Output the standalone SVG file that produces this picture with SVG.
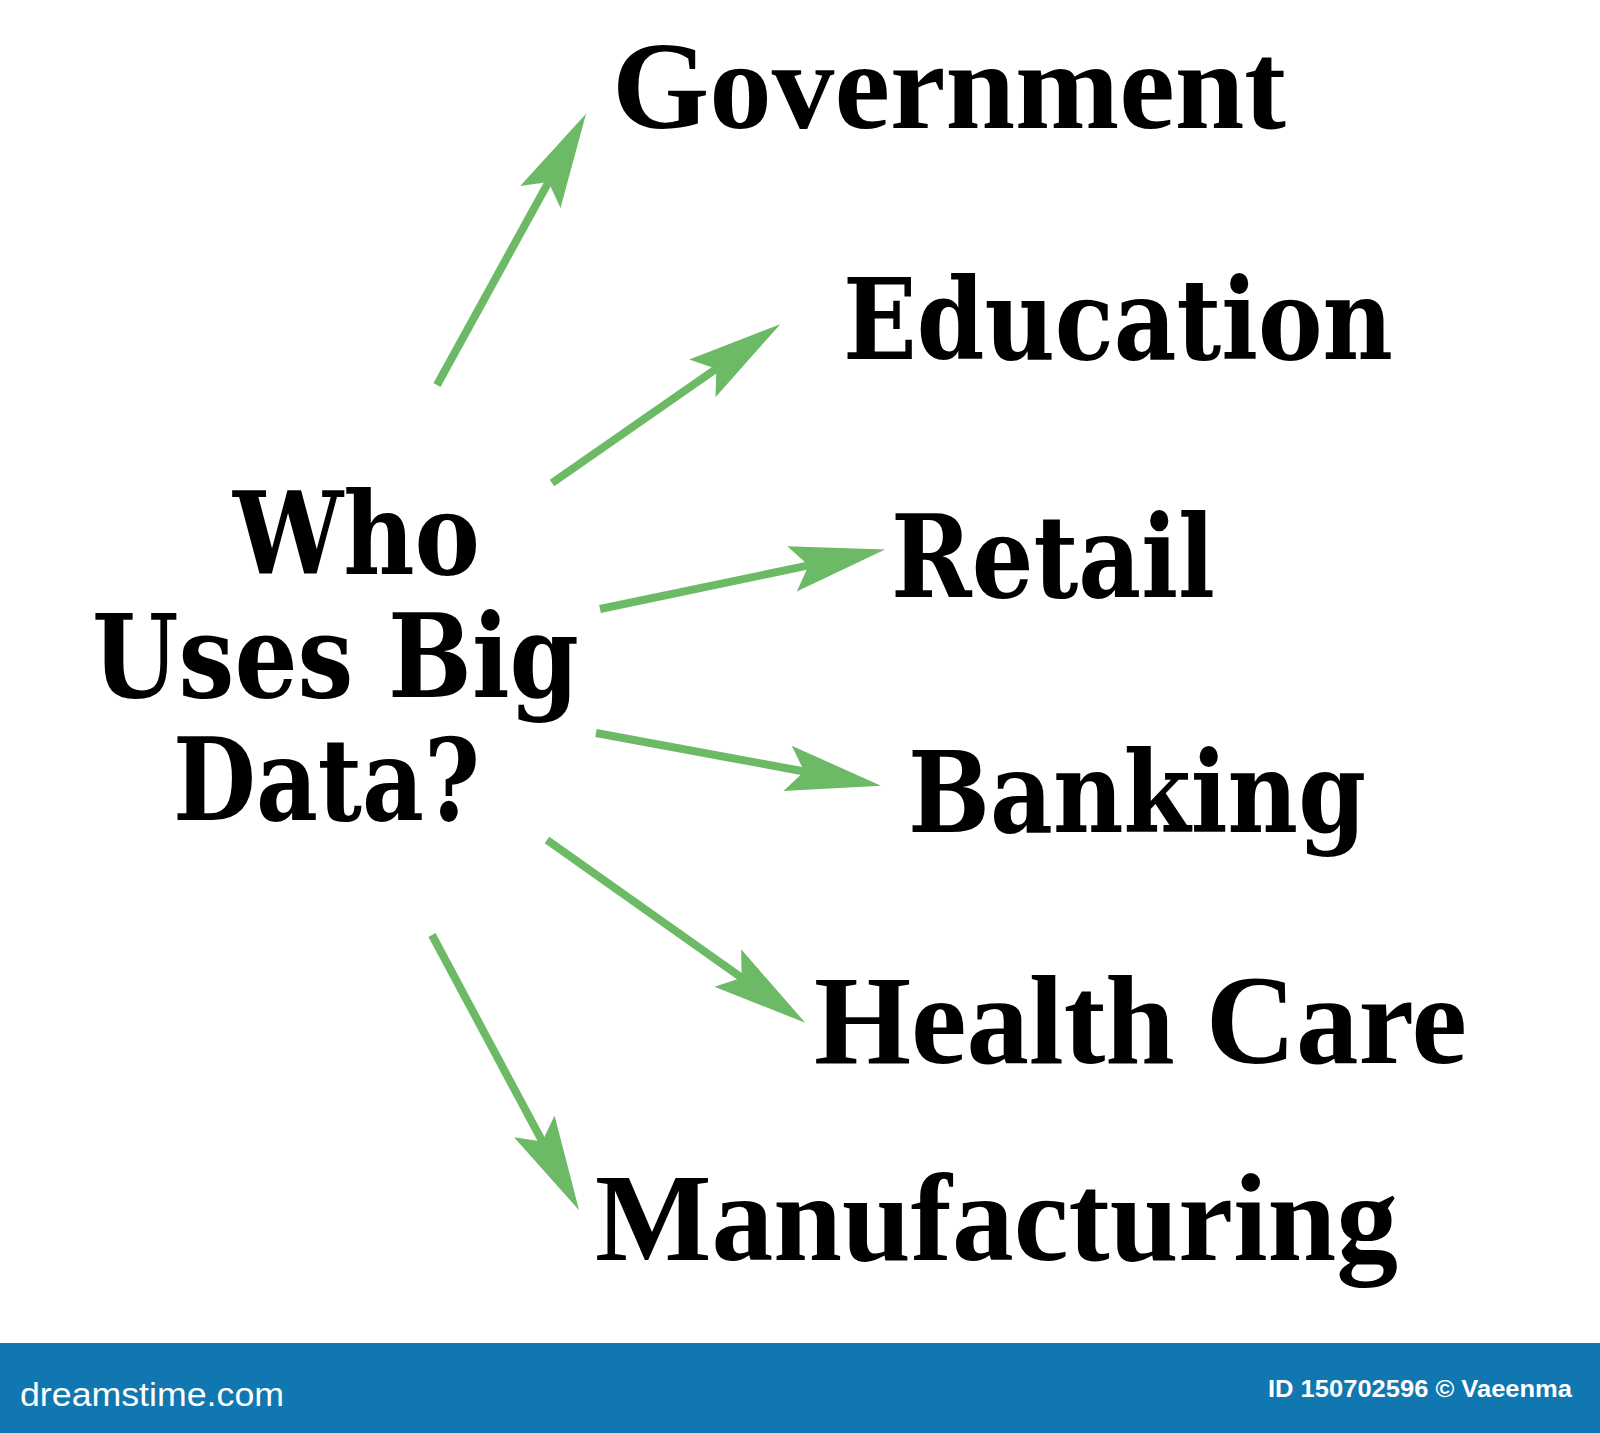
<svg xmlns="http://www.w3.org/2000/svg" width="1600" height="1433" viewBox="0 0 1600 1433">
<style>
.times{font-family:"Liberation Serif","Times New Roman",serif;font-weight:bold;fill:#000;}
.school{font-family:"DejaVu Serif","Liberation Serif",serif;font-weight:bold;fill:#000;}
.conn{stroke:#6cb966;stroke-width:8;fill:none;}
.foot{font-family:"Liberation Sans",Arial,sans-serif;fill:#fff;}
</style>
<defs>
<marker id="ah" markerUnits="userSpaceOnUse" viewBox="-20 -26 100 52" markerWidth="100" markerHeight="52" refX="0" refY="0" orient="auto" overflow="visible">
<path d="M78,0 L-17,-23 L0,0 L-17,23 Z" fill="#6cb966"/>
</marker>
</defs>
<rect x="0" y="0" width="1600" height="1433" fill="#fff"/>
<g id="connectors">
<line class="conn" x1="437" y1="385" x2="548.5" y2="182.1" marker-end="url(#ah)"/>
<line class="conn" x1="552" y1="483" x2="716.3" y2="368.7" marker-end="url(#ah)"/>
<line class="conn" x1="600" y1="609" x2="808.7" y2="565.4" marker-end="url(#ah)"/>
<line class="conn" x1="596" y1="733" x2="804.3" y2="771.5" marker-end="url(#ah)"/>
<line class="conn" x1="547" y1="840" x2="741.7" y2="977.8" marker-end="url(#ah)"/>
<line class="conn" x1="432" y1="935" x2="542.3" y2="1141.4" marker-end="url(#ah)"/>
</g>
<g id="center">
<text class="school" x="233" y="574" font-size="114" textLength="247" lengthAdjust="spacingAndGlyphs">Who</text>
<text class="school" x="92" y="697" font-size="116" textLength="487" lengthAdjust="spacingAndGlyphs">Uses Big</text>
<text class="school" x="173" y="820" font-size="114" textLength="307" lengthAdjust="spacingAndGlyphs">Data?</text>
</g>
<g id="government"><text class="times" x="612" y="128" font-size="124" textLength="674" lengthAdjust="spacingAndGlyphs">Government</text></g>
<g id="education"><text class="school" x="843" y="359" font-size="112" textLength="550" lengthAdjust="spacingAndGlyphs">Education</text></g>
<g id="retail"><text class="school" x="891" y="597" font-size="114" textLength="324" lengthAdjust="spacingAndGlyphs">Retail</text></g>
<g id="banking"><text class="school" x="908" y="832" font-size="112" textLength="458" lengthAdjust="spacingAndGlyphs">Banking</text></g>
<g id="healthcare"><text class="times" x="814" y="1063" font-size="126" textLength="653" lengthAdjust="spacingAndGlyphs">Health Care</text></g>
<g id="manufacturing"><text class="times" x="595" y="1260" font-size="124" textLength="803" lengthAdjust="spacingAndGlyphs">Manufacturing</text></g>
<g id="footer">
<rect x="0" y="1343" width="1600" height="90" fill="#1077b0"/>
<text class="foot" x="20" y="1406" font-size="34" textLength="264" lengthAdjust="spacingAndGlyphs">dreamstime.com</text>
<text class="foot" x="1268" y="1397" font-size="23" font-weight="bold" textLength="304" lengthAdjust="spacingAndGlyphs">ID 150702596 © Vaeenma</text>
</g>
</svg>
